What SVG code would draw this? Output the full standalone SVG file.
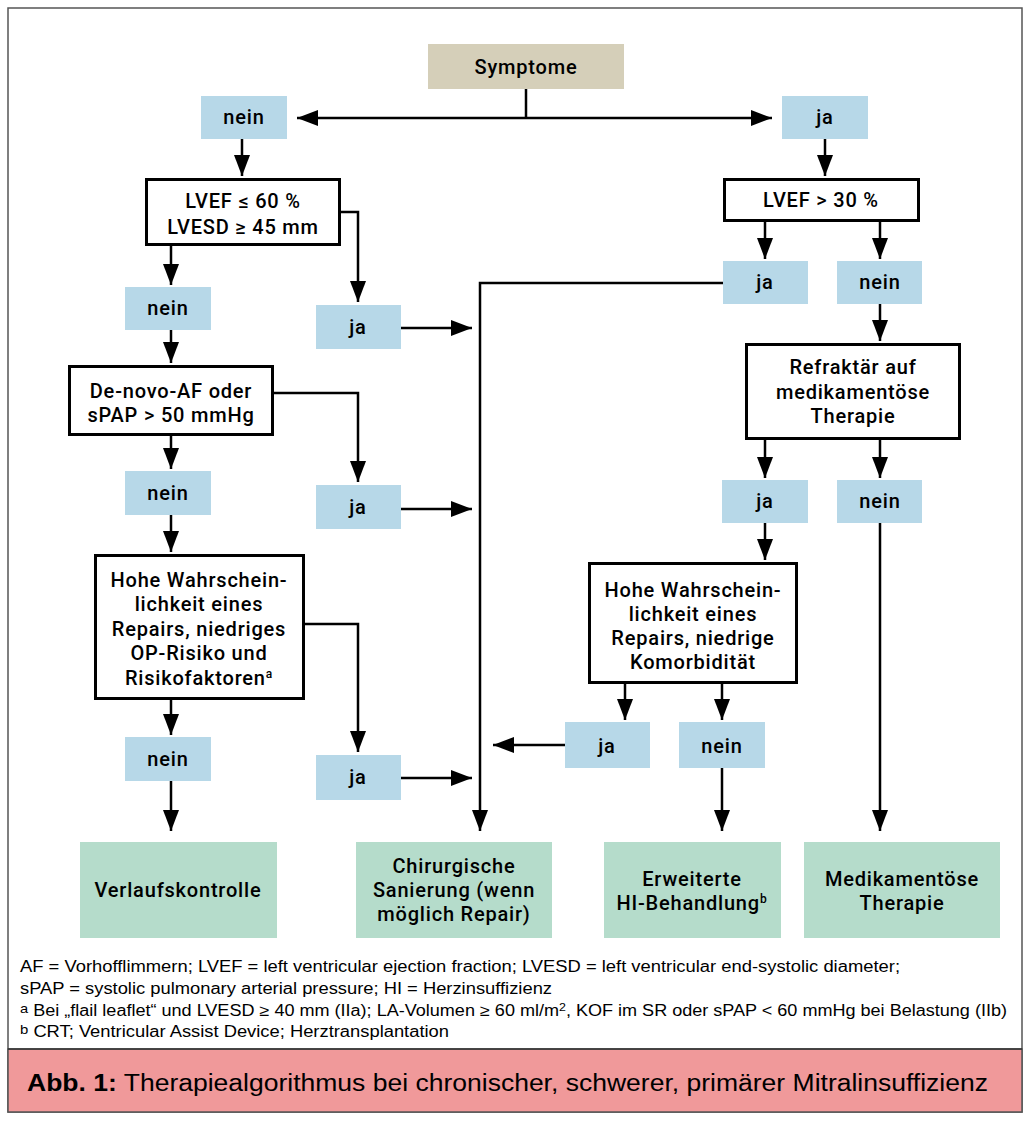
<svg xmlns="http://www.w3.org/2000/svg" width="1032" height="1123" viewBox="0 0 1032 1123">
<defs>
<marker id="arr" markerUnits="userSpaceOnUse" markerWidth="21" markerHeight="16" refX="21" refY="8" orient="auto">
<path d="M0,0 L21,8 L0,16 Z" fill="#000"/>
</marker>
<style>
.t{font-family:Roboto,"Liberation Sans",sans-serif;font-weight:500;font-size:20px;letter-spacing:0.8px;fill:#000;text-anchor:middle}
.box{fill:#fff;stroke:#000;stroke-width:3}
.blue{fill:#b7d8e8}
.green{fill:#b5dccb}
.tan{fill:#d5cfb9}
.c{fill:none;stroke:#000;stroke-width:2.5}
.a{marker-end:url(#arr)}
.fn{font-family:"Liberation Sans",Arial,sans-serif;font-size:16px;fill:#000}
</style>
</defs>
<rect x="0" y="0" width="1032" height="1123" fill="#fff"/>
<rect x="8" y="8" width="1014" height="1104" fill="#fff" stroke="#555" stroke-width="1.5"/>

<g id="connectors">
<path class="c" d="M526,89 V118"/>
<path class="c a" d="M526,118 H297"/>
<path class="c a" d="M526,118 H772"/>
<path class="c a" d="M242,139 V176"/>
<path class="c a" d="M825,139 V176"/>
<path class="c a" d="M171,246 V285"/>
<path class="c a" d="M341,212 H358 V302"/>
<path class="c a" d="M401,328 H472"/>
<path class="c a" d="M171,330 V363"/>
<path class="c a" d="M274,393 H358 V482"/>
<path class="c a" d="M401,509 H472"/>
<path class="c a" d="M171,436 V469"/>
<path class="c a" d="M171,515 V552"/>
<path class="c a" d="M305,624 H358 V752"/>
<path class="c a" d="M401,778 H472"/>
<path class="c a" d="M171,700 V735"/>
<path class="c a" d="M171,781 V831"/>
<path class="c a" d="M765,222 V259"/>
<path class="c a" d="M880,222 V259"/>
<path class="c a" d="M723,283 H480 V831"/>
<path class="c a" d="M880,304 V341"/>
<path class="c a" d="M765,440 V478"/>
<path class="c a" d="M880,440 V478"/>
<path class="c a" d="M880,523 V831"/>
<path class="c a" d="M765,523 V560"/>
<path class="c a" d="M625,684 V720"/>
<path class="c a" d="M722,684 V720"/>
<path class="c a" d="M565,745 H493"/>
<path class="c a" d="M722,768 V831"/>
</g>

<g id="symptome"><rect class="tan" x="428" y="44" width="196" height="45"/><text class="t" x="526" y="74">Symptome</text></g>
<g id="nein0"><rect class="blue" x="201" y="96" width="86" height="43"/><text class="t" x="244" y="124">nein</text></g>
<g id="ja0"><rect class="blue" x="782" y="96" width="86" height="43"/><text class="t" x="825" y="124">ja</text></g>

<g id="lvef60"><rect class="box" x="146.5" y="179.5" width="193" height="65"/><text class="t" x="243" y="208">LVEF ≤ 60 %</text><text class="t" x="243" y="234">LVESD ≥ 45 mm</text></g>
<g id="nein1"><rect class="blue" x="125" y="287" width="86" height="43"/><text class="t" x="168" y="315">nein</text></g>
<g id="ja1"><rect class="blue" x="316" y="305" width="85" height="44"/><text class="t" x="358" y="334">ja</text></g>

<g id="denovo"><rect class="box" x="69.5" y="366.5" width="203" height="68"/><text class="t" x="171" y="398">De-novo-AF oder</text><text class="t" x="171" y="422">sPAP &gt; 50 mmHg</text></g>
<g id="nein2"><rect class="blue" x="125" y="471" width="86" height="44"/><text class="t" x="168" y="500">nein</text></g>
<g id="ja2"><rect class="blue" x="316" y="485" width="85" height="44"/><text class="t" x="358" y="514">ja</text></g>

<g id="hohe1"><rect class="box" x="95.5" y="555.5" width="208" height="143"/>
<text class="t" x="199" y="587">Hohe Wahrschein-</text><text class="t" x="199" y="611">lichkeit eines</text><text class="t" x="199" y="636">Repairs, niedriges</text><text class="t" x="199" y="660">OP-Risiko und</text><text class="t" x="199" y="685">Risikofaktoren<tspan font-size="12" dy="-7">a</tspan></text></g>
<g id="nein3"><rect class="blue" x="125" y="737" width="86" height="44"/><text class="t" x="168" y="766">nein</text></g>
<g id="ja3"><rect class="blue" x="316" y="755" width="85" height="45"/><text class="t" x="358" y="784">ja</text></g>

<g id="lvef30"><rect class="box" x="724.5" y="179.5" width="194" height="41"/><text class="t" x="821" y="207">LVEF &gt; 30 %</text></g>
<g id="ja4"><rect class="blue" x="723" y="261" width="85" height="43"/><text class="t" x="765" y="289">ja</text></g>
<g id="nein4"><rect class="blue" x="837" y="261" width="85" height="43"/><text class="t" x="880" y="289">nein</text></g>

<g id="refraktaer"><rect class="box" x="746.5" y="344.5" width="213" height="94"/><text class="t" x="853" y="374">Refraktär auf</text><text class="t" x="853" y="399">medikamentöse</text><text class="t" x="853" y="423">Therapie</text></g>
<g id="ja5"><rect class="blue" x="722" y="480" width="86" height="43"/><text class="t" x="765" y="508">ja</text></g>
<g id="nein5"><rect class="blue" x="837" y="480" width="85" height="43"/><text class="t" x="880" y="508">nein</text></g>

<g id="hohe2"><rect class="box" x="589.5" y="563.5" width="207" height="119"/>
<text class="t" x="693" y="597">Hohe Wahrschein-</text><text class="t" x="693" y="621">lichkeit eines</text><text class="t" x="693" y="645">Repairs, niedrige</text><text class="t" x="693" y="669">Komorbidität</text></g>
<g id="ja6"><rect class="blue" x="565" y="722" width="85" height="46"/><text class="t" x="607" y="753">ja</text></g>
<g id="nein6"><rect class="blue" x="679" y="722" width="86" height="46"/><text class="t" x="722" y="753">nein</text></g>

<g id="verlauf"><rect class="green" x="80" y="842" width="197" height="96"/><text class="t" x="178" y="897">Verlaufskontrolle</text></g>
<g id="chirurg"><rect class="green" x="356" y="842" width="196" height="96"/><text class="t" x="454" y="873">Chirurgische</text><text class="t" x="454" y="897">Sanierung (wenn</text><text class="t" x="454" y="921">möglich Repair)</text></g>
<g id="erweitert"><rect class="green" x="604" y="842" width="177" height="96"/><text class="t" x="692" y="886">Erweiterte</text><text class="t" x="692" y="910">HI-Behandlung<tspan font-size="12" dy="-7">b</tspan></text></g>
<g id="medikament"><rect class="green" x="804" y="842" width="196" height="96"/><text class="t" x="902" y="886">Medikamentöse</text><text class="t" x="902" y="910">Therapie</text></g>

<g id="footnotes">
<text class="fn" x="20" y="972" textLength="880" lengthAdjust="spacingAndGlyphs">AF = Vorhofflimmern; LVEF = left ventricular ejection fraction; LVESD = left ventricular end-systolic diameter;</text>
<text class="fn" x="20" y="994" textLength="532" lengthAdjust="spacingAndGlyphs">sPAP = systolic pulmonary arterial pressure; HI = Herzinsuffizienz</text>
<text class="fn" x="20" y="1016" textLength="987" lengthAdjust="spacingAndGlyphs"><tspan font-size="13" dy="-3">a</tspan><tspan dy="3"> Bei „flail leaflet“ und LVESD ≥ 40 mm (IIa); LA-Volumen ≥ 60 ml/m</tspan><tspan font-size="11" dy="-5">2</tspan><tspan dy="5">, KOF im SR oder sPAP &lt; 60 mmHg bei Belastung (IIb)</tspan></text>
<text class="fn" x="20" y="1037" textLength="429" lengthAdjust="spacingAndGlyphs"><tspan font-size="13" dy="-3">b</tspan><tspan dy="3"> CRT; Ventricular Assist Device; Herztransplantation</tspan></text>
</g>

<g id="caption">
<rect x="8" y="1049" width="1014" height="63" fill="#f0999a" stroke="#555" stroke-width="1.5"/>
<line x1="8" y1="1049" x2="1022" y2="1049" stroke="#333" stroke-width="1.5"/>
<text x="27" y="1091" font-family="'Liberation Sans',Arial,sans-serif" font-size="23" fill="#000" textLength="961" lengthAdjust="spacingAndGlyphs"><tspan font-weight="bold">Abb. 1:</tspan> Therapiealgorithmus bei chronischer, schwerer, primärer Mitralinsuffizienz</text>
</g>
</svg>
